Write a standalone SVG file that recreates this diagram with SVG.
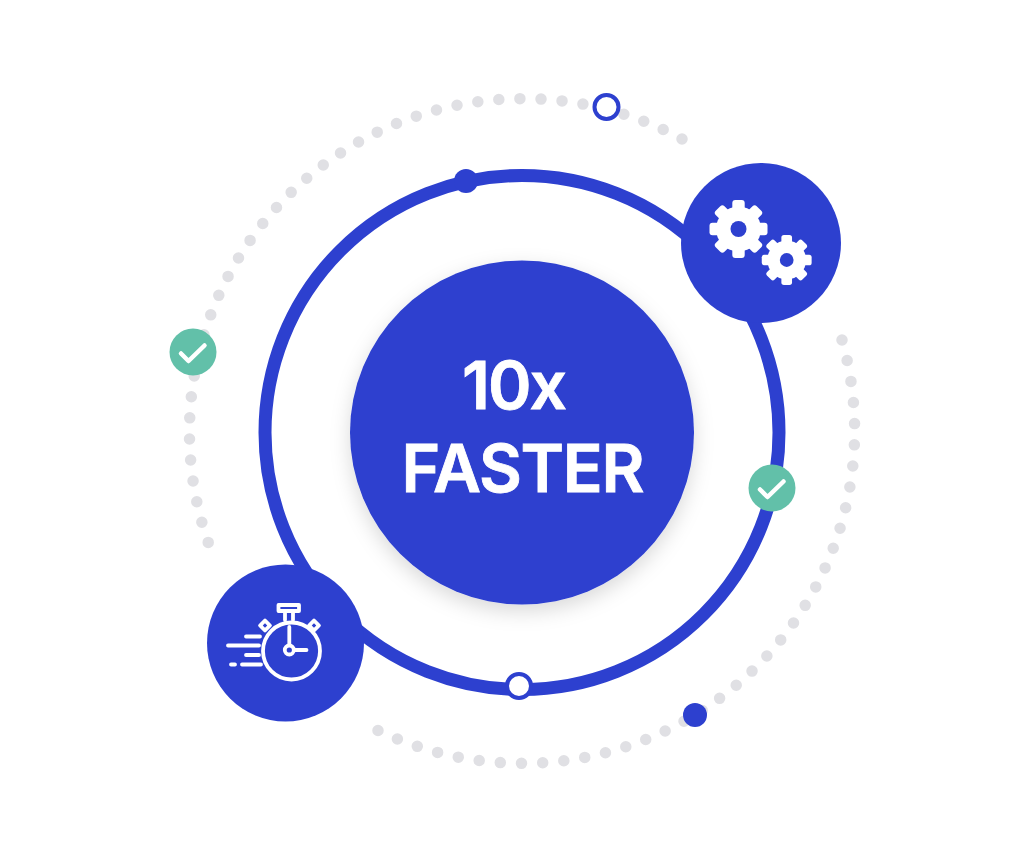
<svg xmlns="http://www.w3.org/2000/svg" width="1024" height="857" viewBox="0 0 1024 857">
<style>
.blue{fill:#2d40cf}
.dots{fill:none;stroke:#e0e0e4;stroke-width:11.5;stroke-linecap:round;stroke-dasharray:0 21.2}
.green{fill:#62c0a9}
.tick{fill:none;stroke:#fff;stroke-width:4.5;stroke-linecap:round;stroke-linejoin:round}
.w{fill:none;stroke:#fff;stroke-width:3.8;stroke-linecap:round;stroke-linejoin:round}
.label{font-family:"Inter","Liberation Sans",sans-serif;font-weight:600;font-size:66px;fill:#fff;stroke:#fff;stroke-width:0.8;text-anchor:middle}
.mark{fill:#fff;stroke:#2d40cf;stroke-width:4}
.tooth{fill:#fff}
</style>
<defs>
<filter id="sh" x="-20%" y="-20%" width="140%" height="140%"><feDropShadow dx="0" dy="7" stdDeviation="10" flood-color="#000" flood-opacity="0.15"/></filter>
<g id="gear">
<circle r="22.500" fill="#fff"/>
<rect class="tooth" x="-6.200" y="-29" width="12.400" height="58" rx="3"/>
<rect class="tooth" x="-6.200" y="-29" width="12.400" height="58" rx="3" transform="rotate(45)"/>
<rect class="tooth" x="-6.200" y="-29" width="12.400" height="58" rx="3" transform="rotate(90)"/>
<rect class="tooth" x="-6.200" y="-29" width="12.400" height="58" rx="3" transform="rotate(135)"/>
<circle r="8" fill="#2d40cf"/>
</g>
<path id="check" class="tick" d="M-12,1.500 L-4.500,9 L11.500,-6.500"/>
</defs>
<g id="connectors">
<path id="dots-top" class="dots" style="stroke-dasharray:0 21.1" d="M682,139 A333.5,333.5 0 0 0 210.300,548.200"/>
<path id="dots-bottom" class="dots" d="M842,340 A332.5,332.5 0 0 1 375,729"/>
<circle id="ring" cx="522" cy="432.500" r="257" fill="none" stroke="#2d40cf" stroke-width="13"/>
</g>
<g id="center-node">
<circle class="blue" cx="522" cy="432.500" r="172" filter="url(#sh)"/>
<text class="label" x="514.500" y="409" textLength="105">10x</text>
<text class="label" x="523" y="492" textLength="243">FASTER</text>
</g>
<g id="gears-node">
<circle class="blue" cx="761" cy="243" r="80"/>
<use href="#gear" transform="translate(738.500,229)"/>
<use href="#gear" transform="translate(786.700,260) scale(0.86)"/>
</g>
<g id="stopwatch-node">
<circle class="blue" cx="285.500" cy="643" r="78.500"/>
<circle class="w" cx="291.500" cy="651" r="28.500"/>
<circle class="w" cx="289.300" cy="650" r="4.500"/>
<path class="w" d="M289.300,627V644M294,650H306.500"/>
<rect class="w" x="278.500" y="605" width="20.500" height="6"/>
<path class="w" d="M285,611V620M293,611V620"/>
<rect class="w" x="-3.500" y="-3.500" width="7" height="7" transform="translate(265,625.500) rotate(45)"/>
<rect class="w" x="-3.500" y="-3.500" width="7" height="7" transform="translate(314,625.500) rotate(45)"/>
<path class="w" d="M246,636.500H260M228,645.500H259M246,655H259M242,664.500H261M231,664.500H235"/>
</g>
<g id="check-left"><circle class="green" cx="193" cy="352" r="23.500"/><use href="#check" x="193" y="352"/></g>
<g id="check-right"><circle class="green" cx="772" cy="488" r="23.500"/><use href="#check" x="772" y="488"/></g>
<g id="marker-top"><circle class="blue" cx="466" cy="181" r="12"/></g>
<g id="marker-hollow-top"><circle class="mark" cx="606.500" cy="107" r="12"/></g>
<g id="marker-hollow-bottom"><circle class="mark" cx="519" cy="686" r="12"/></g>
<g id="marker-bottom"><circle class="blue" cx="695" cy="715" r="12"/></g>
</svg>
